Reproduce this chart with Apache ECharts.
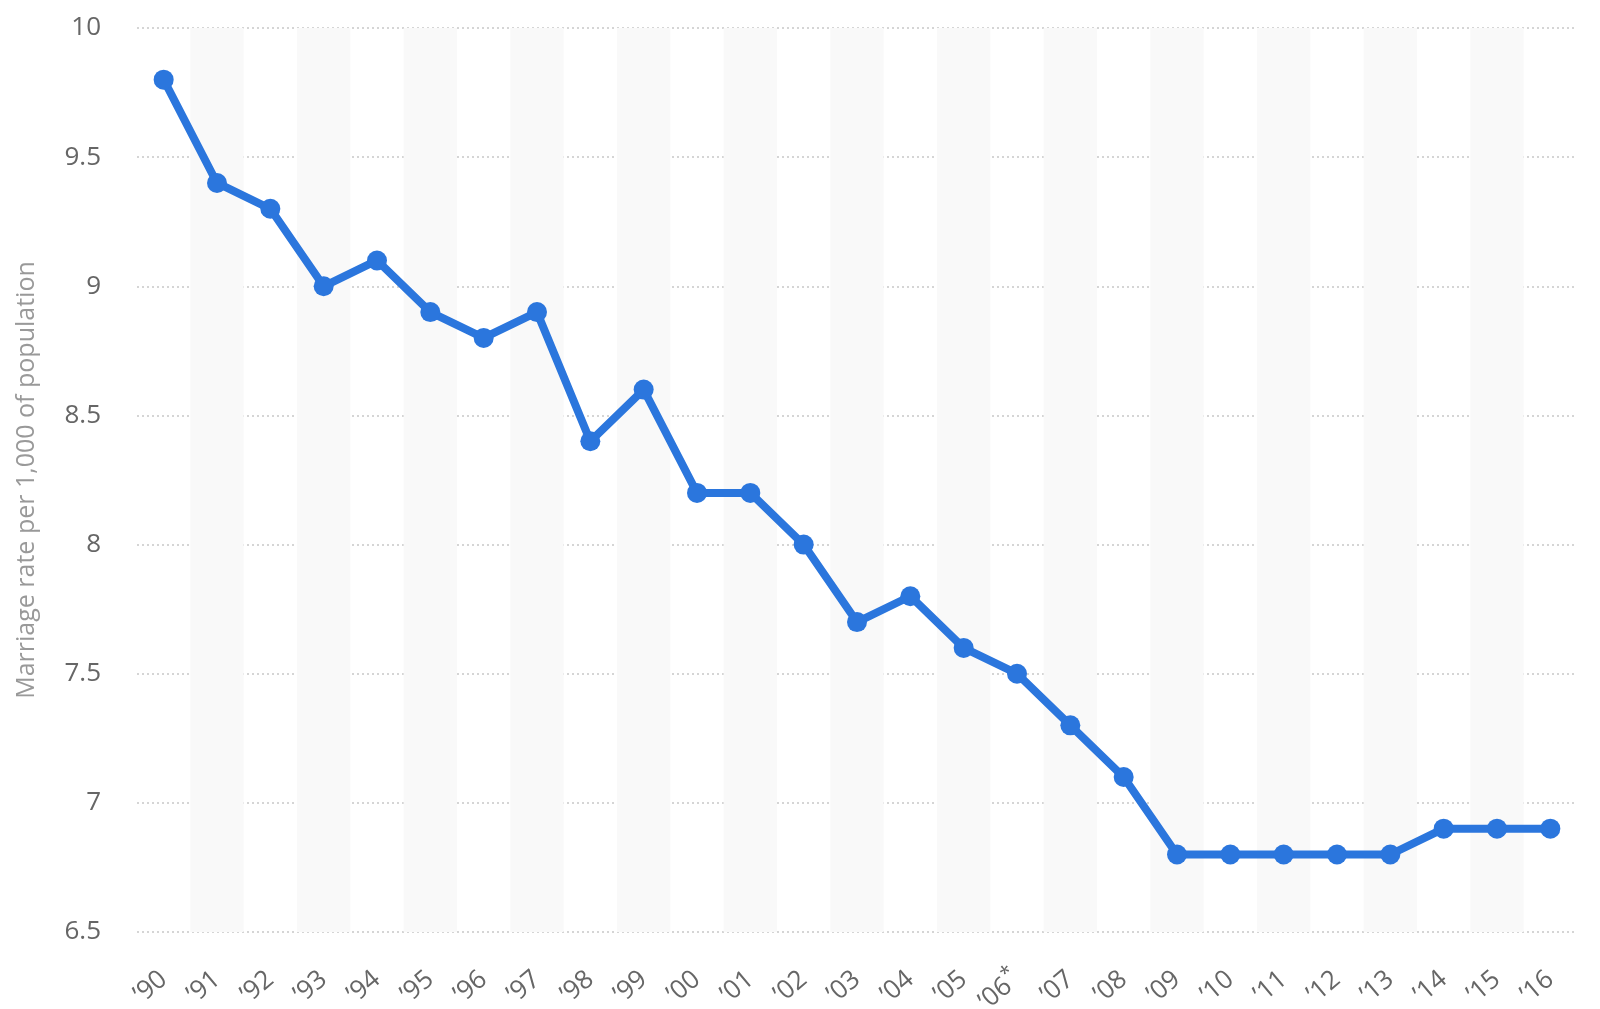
<!DOCTYPE html>
<html>
<head>
<meta charset="utf-8">
<script src="https://cdn.jsdelivr.net/npm/echarts@6/dist/echarts.min.js"></script>
<style>
  html, body { margin: 0; padding: 0; background: #fff; }
  #chart { width: 1600px; height: 1009px; }
</style>
</head>
<body>
<div id="chart"></div>
<script>
const years = ["’90", "’91", "’92", "’93", "’94", "’95", "’96", "’97", "’98", "’99",
  "’00", "’01", "’02", "’03", "’04", "’05", "’06*", "’07", "’08", "’09",
  "’10", "’11", "’12", "’13", "’14", "’15", "’16"];
const marriageRate = [9.8, 9.4, 9.3, 9.0, 9.1, 8.9, 8.8, 8.9, 8.4, 8.6,
  8.2, 8.2, 8.0, 7.7, 7.8, 7.6, 7.5, 7.3, 7.1, 6.8,
  6.8, 6.8, 6.8, 6.8, 6.9, 6.9, 6.9];
const yAxisName = "Marriage rate per 1,000 of population";

const myChart = echarts.init(document.getElementById("chart"));

const option = {
  animation: false,
  textStyle: { fontFamily: "Open Sans" },
  grid: { left: 137, right: 23, top: 28, bottom: 77, outerBoundsMode: "none" },
  xAxis: {
    type: "category",
    data: years,
    axisLine: { show: false },
    axisTick: { show: false },
    axisLabel: {
      rotate: 40,
      margin: 44,
      color: "#666",
      fontFamily: "Open Sans",
      fontSize: 26,
      interval: 0,
      // footnote star is drawn raised and smaller
      formatter: (v) => v.endsWith("*") ? v.slice(0, -1) + "{sup|*}" : v,
      rich: {
        sup: { fontSize: 20, color: "#666", fontFamily: "Open Sans", padding: [0, 0, 16, 0] }
      }
    },
    splitArea: {
      show: true,
      areaStyle: { color: ["rgba(255,255,255,0)", "#f9f9f9"] }
    }
  },
  yAxis: {
    type: "value",
    min: 6.5,
    max: 10,
    interval: 0.5,
    name: yAxisName,
    nameLocation: "middle",
    nameGap: 98,
    nameTextStyle: { color: "#999", fontSize: 25, fontFamily: "Open Sans" },
    axisLine: { show: false },
    axisTick: { show: false },
    axisLabel: { color: "#666", fontSize: 26, margin: 36, fontFamily: "Open Sans" },
    splitLine: {
      lineStyle: { type: [2, 3], color: "#c8c8c8", width: 1.5 }
    }
  },
  series: [
    {
      type: "line",
      data: marriageRate,
      symbol: "circle",
      symbolSize: 20,
      lineStyle: { color: "#2b76dd", width: 8 },
      itemStyle: { color: "#2b76dd" }
    }
  ]
};

myChart.setOption(option);
</script>
</body>
</html>
